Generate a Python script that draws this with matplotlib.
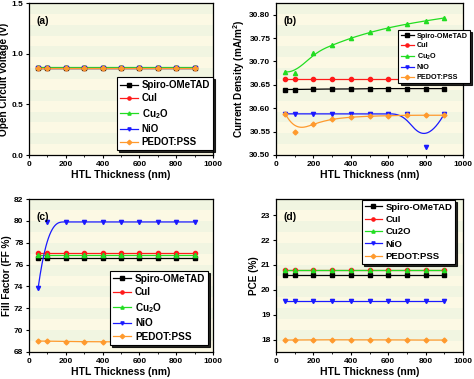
import numpy as np
import matplotlib
matplotlib.use("Agg")
import matplotlib.pyplot as plt

plt.rcParams["font.family"] = ["Liberation Sans", "DejaVu Sans"]
plt.rcParams["mathtext.fontset"] = "custom"
plt.rcParams["mathtext.rm"] = "Liberation Sans:bold"
plt.rcParams["mathtext.it"] = "Liberation Sans:bold"
plt.rcParams["mathtext.bf"] = "Liberation Sans:bold"

thickness = [50, 100, 200, 300, 400, 500, 600, 700, 800, 900]
series = ["Spiro-OMeTAD", "CuI", "Cu$_2$O", "NiO", "PEDOT:PSS"]

voc_spiro = [0.86] * 10
voc_cui = [0.86] * 10
voc_cu2o = [0.87] * 10
voc_nio = [0.86] * 10
voc_pedot = [0.86] * 10

jsc_spiro = [30.640, 30.640, 30.641, 30.641, 30.641, 30.642, 30.642, 30.642, 30.642, 30.642]
jsc_cui = [30.663] * 10
jsc_cu2o = [30.678, 30.675, 30.718, 30.735, 30.750, 30.762, 30.772, 30.780, 30.787, 30.793]
jsc_nio = [30.588, 30.588, 30.588, 30.588, 30.588, 30.588, 30.588, 30.588, 30.518, 30.588]
jsc_pedot = [30.588, 30.550, 30.567, 30.577, 30.581, 30.583, 30.584, 30.585, 30.585, 30.585]

ff_spiro = [76.6] * 10
ff_cui = [77.05] * 10
ff_cu2o = [76.9] * 10
ff_nio = [73.9, 79.9, 79.9, 79.9, 79.9, 79.9, 79.9, 79.9, 79.9, 79.9]
ff_pedot = [69.0, 69.0, 68.95, 68.95, 68.92, 68.92, 68.92, 68.92, 68.9, 68.9]

pce_spiro = [20.6] * 10
pce_cui = [20.78] * 10
pce_cu2o = [20.8] * 10
pce_nio = [19.55] * 10
pce_pedot = [17.98, 17.98, 17.99, 17.99, 17.99, 17.99, 17.99, 17.98, 17.98, 17.98]

colors = ["#000000", "#ff1a1a", "#22dd22", "#1a1aff", "#ff9a2e"]
markers = ["s", "o", "^", "v", "D"]


def bspline(x, y, n=300, k=3):
    P = np.column_stack([x, y]).astype(float)
    m = len(P)
    knots = np.concatenate([[0.0] * k, np.linspace(0, 1, m - k + 1), [1.0] * k])
    t = np.linspace(0, 1, n)
    t[-1] = 1 - 1e-12
    N = np.zeros((n, len(knots) - 1))
    for i in range(len(knots) - 1):
        N[:, i] = (t >= knots[i]) & (t < knots[i + 1])
    for d in range(1, k + 1):
        Nn = np.zeros((n, len(knots) - 1 - d))
        for i in range(len(knots) - 1 - d):
            a = knots[i + d] - knots[i]
            b = knots[i + d + 1] - knots[i + 1]
            term = 0
            if a > 0:
                term = term + (t - knots[i]) / a * N[:, i]
            if b > 0:
                term = term + (knots[i + d + 1] - t) / b * N[:, i + 1]
            Nn[:, i] = term
        N = Nn
    C = N @ P
    return C[:, 0], C[:, 1]


fig = plt.figure(figsize=(4.74, 3.79), dpi=100)

boxes = {
    "a": [29 / 474, 1 - 155 / 379, 184 / 474, 152 / 379],
    "b": [276 / 474, 1 - 155 / 379, 187 / 474, 152 / 379],
    "c": [29 / 474, 1 - 352 / 379, 184 / 474, 153 / 379],
    "d": [276 / 474, 1 - 352 / 379, 187 / 474, 153 / 379],
}

panels = [
    ("a", [voc_spiro, voc_cui, voc_cu2o, voc_nio, voc_pedot], (0, 1.5), [0.0, 0.5, 1.0, 1.5],
     "Open Circuit Voltage (v)", "{:.1f}", series, 7.0, (0.48, 0.513)),
    ("b", [jsc_spiro, jsc_cui, jsc_cu2o, jsc_nio, jsc_pedot], (30.5, 30.825),
     [30.50, 30.55, 30.60, 30.65, 30.70, 30.75, 30.80],
     "Current Density (mA/m$^2$)", "{:.2f}", series, 5.2, (0.655, 0.82)),
    ("c", [ff_spiro, ff_cui, ff_cu2o, ff_nio, ff_pedot], (68, 82), list(range(68, 83, 2)),
     "Fill Factor (FF %)", "{:.0f}", series, 7.2, (0.44, 0.53)),
    ("d", [pce_spiro, pce_cui, pce_cu2o, pce_nio, pce_pedot], (17.5, 23.65), list(range(18, 24)),
     "PCE (%)", "{:.0f}", ["Spiro-OMeTAD", "CuI", "Cu2O", "NiO", "PEDOT:PSS"], 6.8, (0.46, 0.995)),
]

for key, data, ylim, yticks, ylabel, fmt, labels, lfs, lpos in panels:
    ax = fig.add_axes(boxes[key])
    y0, y1 = ylim
    nb = 14
    edges = np.linspace(y0, y1, nb + 1)
    for i in range(nb):
        c = "#fcf9e4" if i % 2 == 0 else "#f1f5e1"
        ax.axhspan(edges[i], edges[i + 1], color=c, lw=0, zorder=0)
    handles = []
    for vals, col, mk, lab in zip(data, colors, markers, labels):
        xs, ys = bspline(thickness, vals)
        ax.plot(xs, ys, color=col, lw=0.9, zorder=2)
        ax.plot(thickness, vals, ls="none", marker=mk, color=col,
                ms=3.0 if mk != "D" else 2.5, zorder=3)
        h, = ax.plot([], [], color=col, lw=0.9, marker=mk, ms=2.3, label=lab)
        handles.append(h)
    ax.set_xlim(0, 1000)
    ax.set_ylim(y0, y1)
    ax.set_xticks(range(0, 1001, 200))
    ax.set_xticks(range(100, 1000, 200), minor=True)
    ax.set_yticks(yticks)
    ax.set_yticklabels([fmt.format(v) for v in yticks])
    ax.tick_params(axis="both", which="major", direction="out", length=2.5, width=0.8,
                   labelsize=6, pad=1.5)
    ax.tick_params(axis="both", which="minor", direction="out", length=1.5, width=0.6)
    for lab in ax.get_xticklabels() + ax.get_yticklabels():
        lab.set_fontweight("bold")
    for s in ax.spines.values():
        s.set_linewidth(0.9)
    ax.set_xlabel("HTL Thickness (nm)", fontsize=7.5, fontweight="bold", labelpad=2)
    ax.set_ylabel(ylabel, fontsize=7.2, fontweight="bold", labelpad=1.5)
    ax.text(0.04, 0.86, "(" + key + ")", transform=ax.transAxes, fontsize=7.5,
            fontweight="bold")
    leg = ax.legend(handles=handles, loc="upper left", bbox_to_anchor=lpos,
                    prop={"size": lfs, "weight": "bold"}, frameon=True, fancybox=False,
                    shadow={"color": "black", "alpha": 0.85, "ox": 1.5, "oy": -1.5},
                    handlelength=1.8, borderpad=0.3, labelspacing=0.35,
                    handletextpad=0.4, borderaxespad=0)
    leg.get_frame().set_edgecolor("black")
    leg.get_frame().set_linewidth(0.8)
    leg.get_frame().set_facecolor("white")

fig.savefig("out.png", dpi=100)
